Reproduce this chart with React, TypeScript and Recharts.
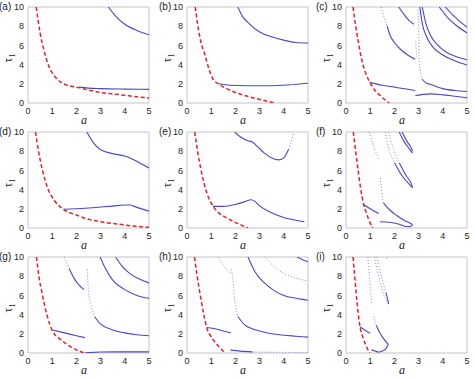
import React from 'react';
import { LineChart, Line, XAxis, YAxis, ReferenceArea } from 'recharts';

type Pt = [number, number];

// (a)
const aRed: Pt[] = [[0.34, 10], [0.5, 7.3], [0.65, 5.6], [0.85, 3.9], [1.1, 2.8], [1.47, 2.0], [2.09, 1.6], [2.5, 1.35], [3, 1.1], [3.5, 0.95], [4, 0.8], [4.5, 0.65], [5, 0.52]];
const aLow: Pt[] = [[2.09, 1.65], [2.5, 1.55], [3, 1.5], [4, 1.45], [5, 1.42]];
const aHigh: Pt[] = [[3.32, 10], [3.6, 9.1], [4, 8.2], [4.5, 7.55], [5, 7.1]];

// (b)
const bRed: Pt[] = [[0.34, 10], [0.45, 8], [0.58, 6.3], [0.73, 5.1], [0.9, 3.6], [1.07, 2.5], [1.3, 2.0], [1.6, 1.55], [2.1, 1.0], [2.5, 0.7], [2.8, 0.5], [3.2, 0.25], [3.63, 0]];
const bLow: Pt[] = [[1.3, 2.0], [1.8, 1.85], [2.5, 1.8], [3.5, 1.8], [4.2, 1.88], [5, 2.05]];
const bHigh: Pt[] = [[2.1, 10], [2.3, 9], [2.6, 8.2], [3, 7.4], [3.5, 6.9], [4, 6.55], [4.5, 6.3], [5, 6.25]];

// (c)
const cRed: Pt[] = [[0.29, 10], [0.4, 8], [0.5, 6.5], [0.65, 4.5], [0.8, 3.2], [1, 2.1], [1.2, 1.3], [1.4, 0.8], [1.6, 0.35], [1.79, 0]];
const cLeft: Pt[] = [[0.98, 2.15], [1.5, 1.85], [2, 1.65], [2.5, 1.45], [2.86, 1.3]];
const cBottom: Pt[] = [[2.86, 0.75], [3.2, 0.9], [3.5, 0.95], [4, 0.85], [4.5, 0.7], [5, 0.55]];
const cMidDot: Pt[] = [[2.98, 9.7], [3.0, 8], [3.01, 6], [3.03, 4.2], [3.14, 2.5]];
const cMid: Pt[] = [[3.14, 2.5], [3.3, 2.1], [3.48, 1.95], [4, 1.5], [4.5, 1.3], [5, 1.2]];
const cStub: Pt[] = [[2.88, 6.4], [2.9, 5.6], [2.92, 4.8]];
const cArcDot: Pt[] = [[1.45, 10], [1.55, 9.1], [1.7, 8.0]];
const cArc: Pt[] = [[1.7, 8.0], [1.83, 7.0], [2.0, 6.3], [2.25, 5.6], [2.55, 5.0], [2.86, 4.55]];
const cShort: Pt[] = [[2.18, 10], [2.4, 9.2], [2.6, 8.6], [2.8, 8.2]];
const cPairA: Pt[] = [[3.15, 10], [3.3, 8.3], [3.5, 7.0], [3.8, 6.0], [4.2, 5.2], [4.6, 4.8], [5, 4.5]];
const cPairB: Pt[] = [[3.05, 10], [3.15, 8.3], [3.35, 6.8], [3.6, 5.8], [4, 5.0], [4.5, 4.4], [5, 3.95]];
const cTopA: Pt[] = [[3.85, 10], [4.2, 8.9], [4.6, 8.0], [5, 7.3]];
const cTopB: Pt[] = [[4.1, 10], [4.4, 9.2], [4.7, 8.5], [5, 7.9]];

// (d)
const dRed: Pt[] = [[0.31, 10], [0.45, 7.8], [0.6, 6], [0.82, 4.1], [1.09, 2.86], [1.46, 1.95], [2, 1.35], [2.45, 0.94], [3, 0.65], [3.68, 0.42], [4.3, 0.22], [5, 0.07]];
const dLow: Pt[] = [[1.46, 1.95], [2, 2.0], [2.5, 2.08], [3, 2.18], [3.5, 2.28], [4, 2.4], [4.2, 2.4], [4.5, 2.15], [5, 1.75]];
const dHigh: Pt[] = [[2.43, 10], [2.7, 8.9], [3, 8.15], [3.5, 7.75], [4, 7.5], [4.3, 7.2], [4.6, 6.8], [5, 6.25]];

// (e)
const eRed: Pt[] = [[0.32, 10], [0.45, 7.8], [0.6, 5.8], [0.8, 3.8], [1.07, 2.3], [1.3, 1.6], [1.6, 1.1], [1.9, 0.7], [2.2, 0.35], [2.52, 0]];
const eLow: Pt[] = [[1.07, 2.25], [1.5, 2.25], [2, 2.45], [2.4, 2.75], [2.65, 2.95], [2.8, 2.8], [3, 2.3], [3.5, 1.6], [4, 1.1], [4.5, 0.8], [4.85, 0.65]];
const eHigh: Pt[] = [[1.97, 10], [2.2, 9.5], [2.5, 9.1], [2.7, 8.95], [2.9, 8.5], [3.2, 7.8], [3.5, 7.3], [3.8, 7.1], [4.0, 7.3], [4.2, 8.2]];
const eHighDot: Pt[] = [[4.2, 8.2], [4.35, 9.4], [4.4, 10]];

// (f)
const fRed: Pt[] = [[0.3, 10], [0.4, 8], [0.5, 6], [0.6, 4.2], [0.73, 2.45], [0.85, 1.5], [0.95, 0.8], [1.1, 0]];
const fLeft: Pt[] = [[0.73, 2.45], [1.0, 2.0], [1.35, 1.5]];
const fLoopLow: Pt[] = [[1.4, 0.65], [1.8, 0.6], [2.2, 0.4], [2.5, 0.15], [2.65, 0.15], [2.75, 0.35]];
const fLoopHigh: Pt[] = [[1.55, 2.6], [1.8, 1.9], [2.1, 1.3], [2.4, 0.8], [2.65, 0.5], [2.75, 0.35]];
const fStem: Pt[] = [[1.42, 5.2], [1.46, 4.2], [1.5, 3.2], [1.55, 2.6]];
const fArc: Pt[] = [[0.97, 10], [1.1, 8.8], [1.25, 7.8], [1.38, 7.1]];
const fMidADot: Pt[] = [[1.62, 10], [1.8, 8], [2.0, 6.8]];
const fMidA: Pt[] = [[2.0, 6.8], [2.3, 5.5], [2.6, 4.6], [2.75, 4.2]];
const fMidBDot: Pt[] = [[1.75, 10], [1.95, 8.3], [2.2, 6.8]];
const fMidB: Pt[] = [[2.2, 6.8], [2.5, 5.4], [2.7, 4.6], [2.75, 4.2]];
const fTopA: Pt[] = [[2.2, 10], [2.4, 9], [2.6, 8.3], [2.75, 7.8]];
const fTopB: Pt[] = [[2.32, 10], [2.5, 9.1], [2.68, 8.4], [2.75, 8.0]];

// (g)
const gRed: Pt[] = [[0.35, 10], [0.45, 8], [0.6, 6], [0.8, 3.8], [1.0, 2.35], [1.3, 1.5], [1.6, 0.9], [1.9, 0.45], [2.15, 0.15], [2.35, 0]];
const gLeft: Pt[] = [[1.0, 2.4], [1.5, 2.1], [2.0, 1.8], [2.35, 1.6]];
const gBottom: Pt[] = [[2.35, 0.02], [3, 0.1], [4, 0.12], [5, 0.12]];
const gMidDot: Pt[] = [[2.45, 8.7], [2.5, 6.5], [2.6, 5], [2.75, 3.8]];
const gMid: Pt[] = [[2.75, 3.8], [3, 3], [3.5, 2.4], [4, 2.1], [4.5, 1.9], [5, 1.8]];
const gArcDot: Pt[] = [[1.5, 10], [1.7, 8.8]];
const gArc: Pt[] = [[1.7, 8.8], [1.9, 7.8], [2.1, 7.1], [2.32, 6.6]];
const gUpper: Pt[] = [[2.98, 10], [3.2, 8.8], [3.5, 7.6], [4, 6.6], [4.5, 6.0], [5, 5.7]];
const gTop: Pt[] = [[3.62, 10], [3.9, 9], [4.2, 8.3], [4.6, 7.7], [5, 7.3]];

// (h)
const hRed: Pt[] = [[0.31, 10], [0.42, 8], [0.55, 6], [0.68, 4.2], [0.82, 2.6], [1.0, 1.7], [1.2, 1.0], [1.4, 0.45], [1.57, 0]];
const hLeft: Pt[] = [[0.82, 2.65], [1.2, 2.5], [1.5, 2.3], [1.81, 2.1]];
const hBottom: Pt[] = [[1.8, 0.3], [2.2, 0.2], [2.7, 0.12]];
const hBottomDot: Pt[] = [[2.7, 0.12], [3.5, 0.08], [4.5, 0.06], [5, 0.05]];
const hArcDot: Pt[] = [[1.3, 10], [1.5, 9.2], [1.65, 8.7], [1.81, 8.3]];
const hMidDot: Pt[] = [[1.84, 8.7], [1.92, 7], [1.98, 5.3], [2.1, 3.8]];
const hMid: Pt[] = [[2.1, 3.8], [2.4, 2.9], [3, 2.3], [3.5, 2.0], [4, 1.85], [4.5, 1.75], [5, 1.65]];
const hUpper: Pt[] = [[2.52, 10], [2.8, 8.5], [3.2, 7.3], [3.6, 6.5], [4, 6.0], [4.5, 5.7], [5, 5.5]];
const hUpper2: Pt[] = [[3.2, 10], [3.6, 9], [4, 8.3], [4.5, 7.8], [5, 7.5]];
const hTop: Pt[] = [[4.55, 10], [4.8, 9.7], [5, 9.5]];

// (i)
const iRed: Pt[] = [[0.29, 10], [0.36, 8], [0.43, 6], [0.5, 4.2], [0.59, 2.6], [0.7, 1.6], [0.82, 0.8], [0.98, 0]];
const iLeft: Pt[] = [[0.59, 2.7], [0.8, 2.35], [1.0, 2.05]];
const iUpperDot: Pt[] = [[1.15, 3.8], [1.25, 2.9]];
const iUpper: Pt[] = [[1.25, 2.9], [1.4, 2.1], [1.55, 1.5], [1.75, 0.9]];
const iBottom: Pt[] = [[1.05, 0.35], [1.2, 0.2], [1.35, 0.1], [1.5, 0.2], [1.65, 0.45], [1.75, 0.9]];
const iArcDot: Pt[] = [[0.9, 10], [0.95, 8.5], [1.0, 7], [1.05, 5.2]];
const iMidA: Pt[] = [[1.17, 10], [1.3, 8.5], [1.45, 7], [1.6, 5.8], [1.76, 5.1]];
const iMidB: Pt[] = [[1.28, 10], [1.4, 8.6], [1.55, 7.2], [1.65, 6.3]];
const iMidBSolid: Pt[] = [[1.65, 6.3], [1.7, 5.8], [1.76, 5.1]];
const iTop: Pt[] = [[1.68, 9.9], [1.72, 9.6]];

const xTicks = [0, 1, 2, 3, 4, 5];
const yTicks = [0, 2, 4, 6, 8, 10];

type Kind = 'red' | 'blue' | 'dot';
type Curve = [Pt[], Kind];

const panels: { label: string; curves: Curve[] }[] = [
  { label: '(a)', curves: [[aLow, 'blue'], [aHigh, 'blue'], [aRed, 'red']] },
  { label: '(b)', curves: [[bLow, 'blue'], [bHigh, 'blue'], [bRed, 'red']] },
  {
    label: '(c)',
    curves: [
      [cLeft, 'blue'], [cBottom, 'blue'], [cMidDot, 'dot'], [cMid, 'blue'], [cStub, 'dot'],
      [cArcDot, 'dot'], [cArc, 'blue'], [cShort, 'blue'], [cPairA, 'blue'], [cPairB, 'blue'],
      [cTopA, 'blue'], [cTopB, 'blue'], [cRed, 'red'],
    ],
  },
  { label: '(d)', curves: [[dLow, 'blue'], [dHigh, 'blue'], [dRed, 'red']] },
  { label: '(e)', curves: [[eLow, 'blue'], [eHigh, 'blue'], [eHighDot, 'dot'], [eRed, 'red']] },
  {
    label: '(f)',
    curves: [
      [fLeft, 'blue'], [fLoopLow, 'blue'], [fLoopHigh, 'blue'], [fStem, 'dot'], [fArc, 'dot'],
      [fMidADot, 'dot'], [fMidA, 'blue'], [fMidBDot, 'dot'], [fMidB, 'blue'],
      [fTopA, 'blue'], [fTopB, 'blue'], [fRed, 'red'],
    ],
  },
  {
    label: '(g)',
    curves: [
      [gLeft, 'blue'], [gBottom, 'blue'], [gMidDot, 'dot'], [gMid, 'blue'], [gArcDot, 'dot'],
      [gArc, 'blue'], [gUpper, 'blue'], [gTop, 'blue'], [gRed, 'red'],
    ],
  },
  {
    label: '(h)',
    curves: [
      [hLeft, 'blue'], [hBottom, 'blue'], [hBottomDot, 'dot'], [hArcDot, 'dot'], [hMidDot, 'dot'],
      [hMid, 'blue'], [hUpper, 'blue'], [hUpper2, 'dot'], [hTop, 'blue'], [hRed, 'red'],
    ],
  },
  {
    label: '(i)',
    curves: [
      [iLeft, 'blue'], [iUpperDot, 'dot'], [iUpper, 'blue'], [iBottom, 'blue'], [iArcDot, 'dot'],
      [iMidA, 'dot'], [iMidB, 'dot'], [iMidBSolid, 'blue'], [iTop, 'dot'], [iRed, 'red'],
    ],
  },
];

const lineStyle: Record<Kind, { stroke: string; strokeWidth: number; strokeDasharray?: string }> = {
  red: { stroke: '#e2232b', strokeWidth: 1.5, strokeDasharray: '4 2.5' },
  blue: { stroke: '#4848c8', strokeWidth: 1.1 },
  dot: { stroke: '#8a8ade', strokeWidth: 1, strokeDasharray: '1 2' },
};

const COLS = [0, 159, 318];
const ROWS = [0, 125, 250];
const LABEL_X = [-1, 0, -2];
const tickStyle = { fontSize: 9, fill: '#262626', fontFamily: 'Liberation Sans, Arial, sans-serif' };

const Panel = ({ idx }: { idx: number }) => {
  const p = panels[idx];
  const left = COLS[idx % 3];
  const top = ROWS[Math.floor(idx / 3)];
  return (
    <>
      <LineChart
        width={159}
        height={128}
        margin={{ top: 7, right: 10, bottom: 0, left: 0 }}
        style={{ position: 'absolute', left, top }}
      >
        <XAxis
          type="number"
          dataKey="x"
          domain={[0, 5]}
          ticks={xTicks}
          height={25}
          axisLine={false}
          tickLine={false}
          tickSize={0}
          tickMargin={5}
          tick={tickStyle}
          allowDataOverflow
        />
        <YAxis
          type="number"
          dataKey="y"
          domain={[0, 10]}
          ticks={yTicks}
          width={28}
          axisLine={false}
          tickLine={false}
          tickSize={0}
          tickMargin={4}
          tick={tickStyle}
          allowDataOverflow
        />
        <ReferenceArea x1={0} x2={5} y1={0} y2={10} fill="none" stroke="#c4c4c4" strokeWidth={1} />
        {p.curves.map(([pts, kind], i) => (
          <Line
            key={i}
            data={pts.map(([x, y]) => ({ x, y }))}
            dataKey="y"
            type="monotone"
            dot={false}
            activeDot={false}
            isAnimationActive={false}
            {...lineStyle[kind]}
          />
        ))}
      </LineChart>
      <div
        style={{
          position: 'absolute',
          left: left + LABEL_X[idx % 3],
          top: top + 1,
          fontSize: 10,
          lineHeight: '12px',
          color: '#1a1a1a',
          fontFamily: 'Liberation Sans, Arial, sans-serif',
        }}
      >
        {p.label}
      </div>
      <div
        style={{
          position: 'absolute',
          left: left - 2,
          top: top + 51,
          width: 20,
          height: 14,
          lineHeight: '14px',
          textAlign: 'center',
          transform: 'rotate(-90deg)',
          fontFamily: 'Liberation Serif, serif',
          fontSize: 12,
          color: '#1a1a1a',
        }}
      >
        τ<sub style={{ fontSize: 8 }}>1</sub>
      </div>
      <div
        style={{
          position: 'absolute',
          left: left + 80,
          top: top + 114,
          width: 8,
          textAlign: 'center',
          lineHeight: '12px',
          fontFamily: 'Liberation Serif, serif',
          fontStyle: 'italic',
          fontSize: 12,
          color: '#1a1a1a',
        }}
      >
        a
      </div>
    </>
  );
};

export default function App() {
  return (
    <div style={{ position: 'absolute', left: 0, top: 0, width: 474, height: 380, background: '#fff', overflow: 'hidden' }}>
      {panels.map((_, i) => (
        <Panel key={i} idx={i} />
      ))}
    </div>
  );
}
